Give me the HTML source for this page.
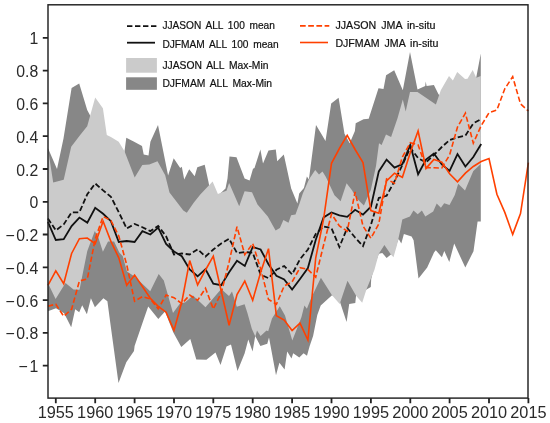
<!DOCTYPE html>
<html><head><meta charset="utf-8"><title>Temperature anomaly time series</title>
<style>
html,body{margin:0;padding:0;background:#fff;}
svg{display:block;font-family:"Liberation Sans",sans-serif;}
</style></head><body>
<svg width="550" height="423" viewBox="0 0 550 423">
<rect width="550" height="423" fill="#fff"/>
<path d="M47.9,148.0 L57.0,169.0 L63.5,138.5 L71.6,88.1 L79.2,83.4 L87.2,109.9 L90.4,116.0 L95.2,125.0 L103.0,150.0 L111.0,170.0 L118.8,194.0 L126.3,137.7 L134.6,142.1 L142.0,145.9 L143.7,154.6 L148.5,155.6 L150.4,141.8 L158.0,125.1 L168.1,175.5 L173.7,158.3 L180.2,167.9 L181.8,166.7 L184.2,179.4 L189.2,169.3 L194.7,176.3 L197.3,167.3 L204.7,164.7 L208.4,181.4 L210.0,190.0 L214.0,198.0 L218.2,195.5 L225.5,188.4 L227.5,178.4 L229.5,156.6 L236.5,157.2 L244.6,178.4 L249.6,180.4 L253.0,168.8 L254.5,168.0 L260.4,149.6 L263.0,163.4 L268.5,150.6 L275.8,149.6 L277.2,161.2 L283.8,154.6 L291.2,188.4 L297.4,203.5 L299.2,193.4 L303.9,188.0 L306.9,176.6 L308.9,179.4 L316.0,125.0 L321.4,134.1 L325.5,141.1 L331.2,103.4 L338.6,97.7 L344.5,133.7 L349.7,143.2 L354.9,131.1 L355.7,123.3 L363.5,119.3 L368.7,118.7 L378.5,88.3 L383.5,88.9 L386.1,75.2 L394.2,70.2 L402.8,90.3 L410.0,52.0 L417.5,89.6 L425.2,86.1 L425.7,81.6 L426.6,86.1 L433.9,85.1 L438.5,94.2 L445.0,100.0 L470.0,100.0 L476.2,77.8 L480.8,53.5 L480.8,221.5 L477.6,221.5 L473.5,251.2 L465.3,267.5 L454.2,243.6 L449.3,262.0 L444.3,251.1 L441.9,257.2 L435.8,250.3 L434.0,252.6 L427.2,267.5 L418.5,278.4 L413.6,240.3 L411.6,236.5 L403.9,233.9 L401.3,243.4 L398.7,239.0 L397.0,243.0 L393.5,254.0 L390.9,254.6 L386.6,258.0 L382.3,252.9 L378.8,253.7 L374.4,266.0 L371.2,279.0 L370.8,287.0 L366.5,289.5 L361.0,294.0 L356.1,295.2 L355.3,303.0 L349.2,303.9 L346.6,322.0 L340.0,302.0 L336.0,297.0 L332.0,295.2 L320.7,305.6 L317.3,315.1 L313.1,335.9 L309.6,346.3 L307.0,355.8 L303.6,353.2 L299.3,357.5 L293.2,353.2 L291.5,358.4 L287.2,351.5 L284.6,369.6 L279.4,362.7 L276.0,375.3 L269.0,337.6 L267.3,343.7 L260.4,345.9 L255.2,335.9 L252.6,351.5 L248.3,339.4 L244.6,353.4 L237.5,371.0 L231.0,344.5 L226.5,346.4 L220.5,365.1 L215.5,352.4 L206.4,359.8 L196.3,359.4 L190.3,338.9 L181.3,346.9 L173.2,332.3 L165.0,311.5 L158.3,319.0 L148.2,306.4 L143.5,320.0 L134.6,345.9 L134.0,351.1 L126.3,362.3 L118.5,383.0 L109.9,320.0 L107.4,301.2 L103.4,298.2 L94.9,307.2 L90.9,298.2 L86.9,314.3 L82.2,305.2 L79.2,312.3 L75.2,309.2 L71.2,327.3 L64.1,313.3 L56.0,308.2 L47.9,311.2Z" fill="#878787"/>
<path d="M47.9,148.5 L53.2,182.4 L63.7,179.8 L71.2,146.8 L79.4,136.0 L87.2,126.2 L95.2,97.5 L102.9,108.2 L106.8,135.0 L110.9,137.0 L118.7,141.8 L124.5,151.3 L134.7,177.5 L142.3,165.1 L149.3,164.4 L157.5,161.2 L165.2,175.2 L169.5,192.5 L183.3,210.6 L186.8,212.8 L193.7,202.8 L200.3,194.4 L212.6,181.4 L217.9,194.0 L221.4,192.4 L226.5,190.7 L229.1,183.0 L239.2,206.3 L244.6,191.3 L252.0,192.2 L257.5,204.5 L267.8,216.6 L275.6,230.4 L279.9,227.9 L283.4,220.1 L288.5,222.7 L291.1,215.2 L295.5,214.6 L299.5,203.5 L302.8,193.6 L308.9,179.4 L315.2,169.9 L319.0,174.5 L322.5,171.4 L325.9,177.1 L334.5,195.3 L340.6,201.3 L346.6,183.2 L351.8,190.1 L357.0,198.7 L363.9,205.6 L370.8,190.1 L376.0,165.9 L379.0,143.2 L381.6,144.9 L386.0,134.5 L391.1,137.1 L397.6,118.0 L402.8,99.4 L405.7,111.5 L410.0,92.0 L417.5,92.0 L435.9,104.6 L440.8,90.2 L449.0,76.1 L452.9,80.4 L457.2,72.1 L465.0,79.0 L467.5,78.7 L472.7,70.0 L476.2,77.8 L480.8,76.0 L480.8,164.0 L473.3,171.0 L465.0,190.4 L458.2,183.8 L454.8,195.0 L449.5,204.9 L444.2,203.2 L440.9,207.8 L436.7,203.6 L433.2,211.5 L425.3,216.5 L421.9,210.4 L417.7,214.2 L413.5,210.4 L409.9,216.6 L402.3,219.5 L400.4,229.5 L397.0,245.1 L393.5,257.2 L390.9,254.6 L384.4,245.1 L378.8,253.7 L374.4,270.0 L370.8,278.8 L366.5,289.2 L362.2,302.7 L356.1,295.8 L347.5,280.7 L339.7,303.9 L332.0,295.2 L320.9,277.7 L311.1,298.2 L306.9,308.7 L304.4,305.4 L301.4,317.3 L292.3,340.4 L285.0,315.5 L279.8,306.2 L272.0,318.5 L268.2,331.3 L266.5,330.4 L260.6,336.0 L257.0,330.4 L255.3,336.5 L251.8,328.7 L247.5,313.2 L244.6,304.3 L236.8,306.8 L232.0,291.4 L229.0,295.9 L225.9,293.3 L221.2,289.0 L205.5,307.3 L193.0,295.4 L185.3,302.2 L179.6,304.0 L173.0,313.0 L163.8,280.6 L158.7,273.9 L150.2,291.3 L134.5,276.5 L127.0,271.6 L122.7,256.1 L119.3,252.6 L114.1,241.4 L108.0,241.4 L102.9,251.8 L98.5,238.0 L94.8,231.0 L87.3,250.9 L79.5,289.8 L73.5,289.5 L65.5,283.0 L55.6,299.0 L47.9,283.0Z" fill="#cbcbcb"/>
<path d="M47.9,218.4 L55.8,230.4 L63.7,224.4 L71.6,212.3 L79.4,212.3 L87.3,194.2 L95.2,183.5 L103.1,190.4 L110.9,196.8 L118.8,212.3 L126.7,228.5 L134.6,224.0 L142.4,227.2 L150.3,231.1 L158.2,225.9 L166.1,236.3 L174.0,254.5 L181.8,253.5 L189.7,254.5 L197.6,249.3 L205.5,256.5 L213.3,249.5 L221.2,243.5 L229.1,238.8 L237.0,253.0 L244.8,252.1 L252.7,252.6 L260.6,274.5 L268.5,278.2 L276.4,269.8 L284.2,266.0 L292.1,274.4 L300.0,259.2 L307.9,249.5 L315.7,234.0 L323.6,226.5 L331.5,228.2 L339.4,247.0 L347.2,228.0 L355.1,237.5 L363.0,246.1 L370.9,225.0 L378.8,198.0 L386.6,195.8 L394.5,181.1 L402.4,165.0 L410.3,147.8 L418.1,158.1 L426.0,162.5 L433.9,155.0 L441.8,147.0 L449.6,140.0 L457.5,137.4 L465.4,135.5 L473.3,123.4 L481.2,119.0" fill="none" stroke="#111" stroke-width="1.8" stroke-dasharray="5.4 2.6" stroke-linejoin="miter"/>
<path d="M47.9,221.8 L55.8,240.0 L63.7,239.1 L71.6,226.1 L79.4,217.6 L87.3,222.6 L95.2,207.9 L103.1,213.8 L110.9,221.2 L118.8,242.0 L126.7,241.0 L134.6,242.0 L142.4,231.2 L150.3,234.5 L158.2,227.6 L166.1,244.0 L174.0,251.5 L181.8,256.2 L189.7,269.4 L197.6,276.3 L205.5,269.2 L213.3,283.7 L221.2,285.2 L229.1,272.3 L237.0,260.8 L244.8,266.0 L252.7,247.0 L260.6,249.5 L268.5,264.2 L276.4,275.8 L284.2,279.4 L292.1,289.6 L300.0,279.0 L307.9,268.0 L315.7,240.0 L323.6,217.4 L331.5,212.5 L339.4,215.4 L347.2,216.9 L355.1,209.8 L363.0,214.7 L370.9,206.7 L378.8,171.4 L386.6,159.6 L394.5,167.6 L402.4,164.0 L410.3,144.9 L418.1,174.2 L426.0,159.5 L433.9,153.5 L441.8,164.5 L449.6,170.9 L457.5,154.0 L465.4,166.5 L473.3,157.0 L481.2,144.0" fill="none" stroke="#111" stroke-width="1.8" stroke-linejoin="miter"/>
<path d="M47.9,306.2 L55.8,304.2 L63.7,316.3 L71.6,309.2 L79.4,281.0 L87.3,279.0 L95.2,239.0 L103.1,216.5 L110.9,220.5 L118.8,236.0 L126.7,264.7 L134.6,301.3 L142.4,296.6 L150.3,299.0 L158.2,308.9 L166.1,295.0 L174.0,297.7 L181.8,303.7 L189.7,295.0 L197.6,300.4 L205.5,288.2 L213.3,309.0 L221.2,293.0 L229.1,262.0 L237.0,226.7 L244.8,254.7 L252.7,243.5 L260.6,268.5 L268.5,299.4 L276.4,304.3 L284.2,286.0 L292.1,281.8 L300.0,267.7 L307.9,269.4 L315.7,277.2 L323.6,245.0 L331.5,214.0 L339.4,226.0 L347.2,231.2 L355.1,192.0 L363.0,226.0 L370.9,238.3 L378.8,224.0 L386.6,179.0 L394.5,183.3 L402.4,157.0 L410.3,142.7 L418.1,144.9 L426.0,167.6 L433.9,167.8 L441.8,168.0 L449.6,155.0 L457.5,127.0 L465.4,113.2 L473.3,143.2 L481.2,125.6 L489.0,112.8 L496.9,110.0 L504.8,88.8 L512.7,76.7 L520.5,103.9 L528.4,111.0" fill="none" stroke="#ff4000" stroke-width="1.6" stroke-dasharray="5.4 2.6" stroke-linejoin="miter"/>
<path d="M47.9,285.4 L55.8,270.8 L63.7,283.7 L71.6,253.5 L79.4,238.7 L87.3,238.0 L95.2,243.7 L103.1,221.2 L110.9,241.4 L118.8,257.8 L126.7,285.2 L134.6,275.0 L142.4,286.5 L150.3,298.3 L158.2,306.4 L166.1,312.2 L174.0,330.4 L181.8,302.0 L189.7,260.6 L197.6,284.9 L205.5,270.0 L213.3,256.2 L221.2,291.0 L229.1,325.3 L237.0,294.5 L244.8,281.0 L252.7,300.2 L260.6,272.6 L268.5,248.7 L276.4,315.7 L284.2,320.0 L292.1,330.5 L300.0,323.1 L307.9,340.1 L315.7,258.0 L323.6,219.0 L331.5,163.3 L339.4,148.5 L347.2,135.4 L355.1,149.5 L363.0,162.5 L370.9,210.6 L378.8,213.3 L386.6,181.0 L394.5,173.2 L402.4,177.3 L410.3,152.5 L418.1,131.0 L426.0,168.4 L433.9,159.4 L441.8,162.1 L449.6,173.8 L457.5,181.9 L465.4,173.1 L473.3,166.5 L481.2,161.5 L489.0,158.6 L496.9,194.2 L504.8,212.4 L512.7,234.4 L520.5,213.6 L528.4,162.7" fill="none" stroke="#ff4000" stroke-width="1.6" stroke-linejoin="miter"/>
<rect x="48.0" y="4.8" width="480.0" height="393.3" fill="none" stroke="#222" stroke-width="1.45"/>
<path d="M42.8,37.9H48.0M42.8,70.7H48.0M42.8,103.4H48.0M42.8,136.2H48.0M42.8,169.0H48.0M42.8,201.8H48.0M42.8,234.5H48.0M42.8,267.3H48.0M42.8,300.1H48.0M42.8,332.8H48.0M42.8,365.6H48.0M55.8,398.1V403.3M95.2,398.1V403.3M134.6,398.1V403.3M174.0,398.1V403.3M213.3,398.1V403.3M252.7,398.1V403.3M292.1,398.1V403.3M331.5,398.1V403.3M370.9,398.1V403.3M410.3,398.1V403.3M449.6,398.1V403.3M489.0,398.1V403.3M528.4,398.1V403.3" fill="none" stroke="#222" stroke-width="1.8"/>
<g font-size="16.3" fill="#2a2a2a"><text transform="translate(38.3,44.4) scale(0.97,1)" text-anchor="end">1</text><text transform="translate(38.3,77.2) scale(0.97,1)" text-anchor="end">0.8</text><text transform="translate(38.3,109.9) scale(0.97,1)" text-anchor="end">0.6</text><text transform="translate(38.3,142.7) scale(0.97,1)" text-anchor="end">0.4</text><text transform="translate(38.3,175.5) scale(0.97,1)" text-anchor="end">0.2</text><text transform="translate(38.3,208.3) scale(0.97,1)" text-anchor="end">0</text><text transform="translate(38.3,241.0) scale(0.97,1)" text-anchor="end">−<tspan dx="1.7">0.2</tspan></text><text transform="translate(38.3,273.8) scale(0.97,1)" text-anchor="end">−<tspan dx="1.7">0.4</tspan></text><text transform="translate(38.3,306.6) scale(0.97,1)" text-anchor="end">−<tspan dx="1.7">0.6</tspan></text><text transform="translate(38.3,339.3) scale(0.97,1)" text-anchor="end">−<tspan dx="1.7">0.8</tspan></text><text transform="translate(38.3,372.1) scale(0.97,1)" text-anchor="end">−<tspan dx="1.7">1</tspan></text><text transform="translate(55.8,417.6) scale(1,1)" text-anchor="middle">1955</text><text transform="translate(95.2,417.6) scale(1,1)" text-anchor="middle">1960</text><text transform="translate(134.6,417.6) scale(1,1)" text-anchor="middle">1965</text><text transform="translate(174.0,417.6) scale(1,1)" text-anchor="middle">1970</text><text transform="translate(213.3,417.6) scale(1,1)" text-anchor="middle">1975</text><text transform="translate(252.7,417.6) scale(1,1)" text-anchor="middle">1980</text><text transform="translate(292.1,417.6) scale(1,1)" text-anchor="middle">1985</text><text transform="translate(331.5,417.6) scale(1,1)" text-anchor="middle">1990</text><text transform="translate(370.9,417.6) scale(1,1)" text-anchor="middle">1995</text><text transform="translate(410.3,417.6) scale(1,1)" text-anchor="middle">2000</text><text transform="translate(449.6,417.6) scale(1,1)" text-anchor="middle">2005</text><text transform="translate(489.0,417.6) scale(1,1)" text-anchor="middle">2010</text><text transform="translate(528.4,417.6) scale(1,1)" text-anchor="middle">2015</text></g>
<path d="M127,26.2H156.6" stroke="#111" stroke-width="1.8" stroke-dasharray="5.4 2.6" fill="none"/>
<path d="M127,42.7H155" stroke="#111" stroke-width="1.8" fill="none"/>
<rect x="126.1" y="58.0" width="30.8" height="14.7" fill="#cbcbcb"/>
<rect x="126.1" y="77.3" width="30.8" height="12.5" fill="#878787"/>
<path d="M300,25.9H329.3" stroke="#ff4000" stroke-width="1.6" stroke-dasharray="5.7 2.5" fill="none"/>
<path d="M300,42.5H328" stroke="#ff4000" stroke-width="1.6" fill="none"/>
<g font-size="10.4" fill="#111" stroke="#111" stroke-width="0.2" word-spacing="2"><text x="162.4" y="28.8" textLength="112.5" lengthAdjust="spacingAndGlyphs">JJASON ALL 100 mean</text><text x="162.4" y="47.5" textLength="116.3" lengthAdjust="spacingAndGlyphs">DJFMAM ALL 100 mean</text><text x="162.4" y="68.8" textLength="106.1" lengthAdjust="spacingAndGlyphs">JJASON ALL Max-Min</text><text x="162.4" y="87.2" textLength="109.7" lengthAdjust="spacingAndGlyphs">DJFMAM ALL Max-Min</text><text x="335.4" y="28.5" textLength="100.0" lengthAdjust="spacingAndGlyphs">JJASON JMA in-situ</text><text x="335.4" y="47.2" textLength="103.0" lengthAdjust="spacingAndGlyphs">DJFMAM JMA in-situ</text></g>
</svg>
</body></html>
